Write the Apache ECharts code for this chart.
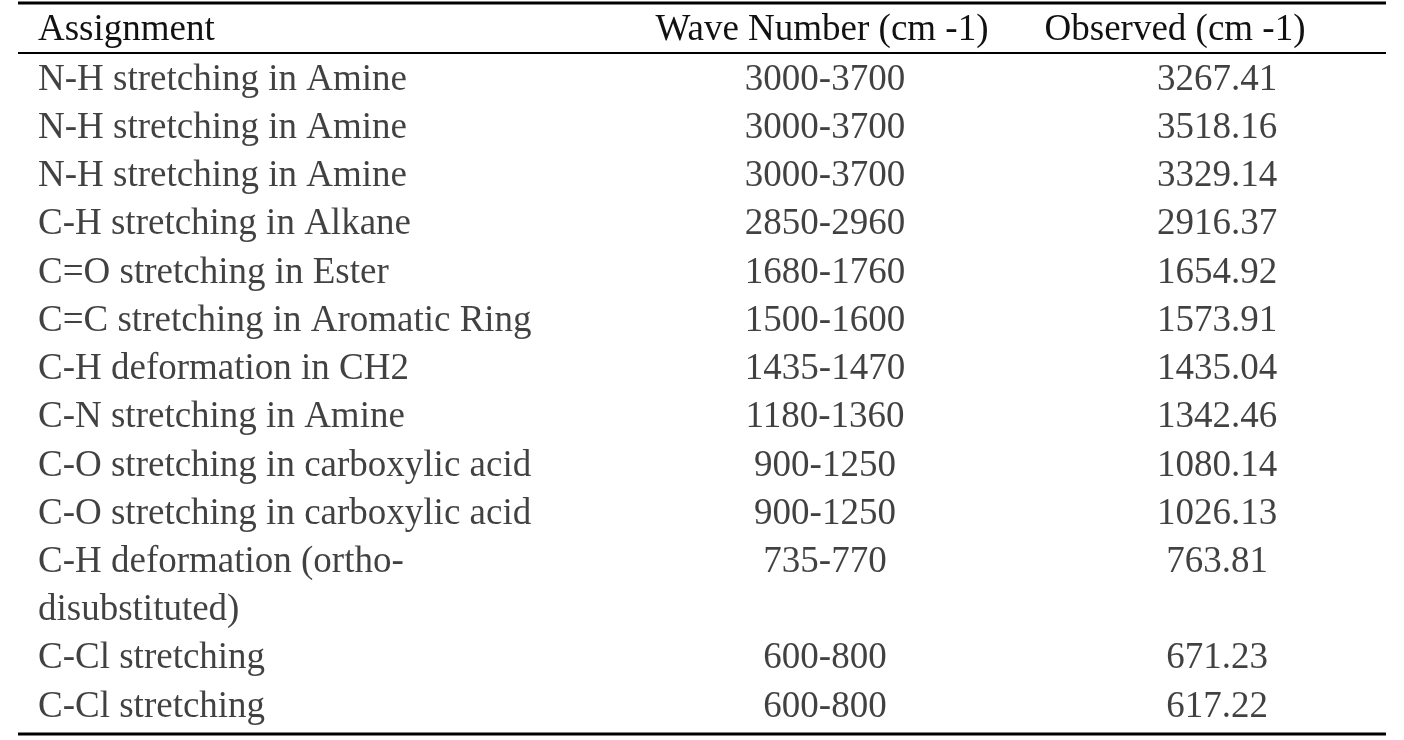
<!DOCTYPE html><html><head><meta charset="utf-8"><script src="https://cdn.jsdelivr.net/npm/echarts@6/dist/echarts.min.js"></script>
<style>html,body{margin:0;background:#fff}#c{width:1404px;height:740px}</style></head><body><div id="c"></div><script>
const headers=["Assignment","Wave Number (cm -1)","Observed (cm -1)"];
const assignments=["N-H stretching in Amine","N-H stretching in Amine","N-H stretching in Amine","C-H stretching in Alkane","C=O stretching in Ester","C=C stretching in Aromatic Ring","C-H deformation in CH2","C-N stretching in Amine","C-O stretching in carboxylic acid","C-O stretching in carboxylic acid","C-H deformation (ortho-","disubstituted)","C-Cl stretching","C-Cl stretching"];
const waveRanges=["3000-3700","3000-3700","3000-3700","2850-2960","1680-1760","1500-1600","1435-1470","1180-1360","900-1250","900-1250","735-770","","600-800","600-800"];
const observed=["3267.41","3518.16","3329.14","2916.37","1654.92","1573.91","1435.04","1342.46","1080.14","1026.13","763.81","","671.23","617.22"];
const rows=assignments.map((_,i)=>String(i));
const font={fontFamily:"Liberation Serif",fontSize:37,color:"#111"};
function ser(vals,x,align){return {type:'scatter',symbolSize:0,silent:true,data:vals.map((v,i)=>({value:[x,i],name:v})),
 label:{show:true,position:'inside',align:align,verticalAlign:'middle',formatter:p=>p.name,...font}};}
const ch=echarts.init(document.getElementById('c'));
ch.setOption({animation:false,
 grid:{left:0,right:0,top:56,bottom:9},
 xAxis:{type:'value',min:0,max:1404,show:false},
 yAxis:{type:'category',data:rows,inverse:true,show:false},
 series:[ser(assignments,38,'left'),ser(waveRanges,825,'center'),ser(observed,1217,'center')],
 graphic:[
  {type:'line',shape:{x1:18,y1:3,x2:1386,y2:3},style:{stroke:'#000',lineWidth:3}},
  {type:'line',shape:{x1:18,y1:53,x2:1386,y2:53},style:{stroke:'#000',lineWidth:2}},
  {type:'line',shape:{x1:18,y1:734,x2:1386,y2:734},style:{stroke:'#000',lineWidth:3}},
  {type:'text',x:38,y:30,style:{text:headers[0],textVerticalAlign:'middle',font:'37px "Liberation Serif"',fill:'#111'}},
  {type:'text',x:822,y:30,style:{text:headers[1],textAlign:'center',textVerticalAlign:'middle',font:'37px "Liberation Serif"',fill:'#111'}},
  {type:'text',x:1175,y:30,style:{text:headers[2],textAlign:'center',textVerticalAlign:'middle',font:'37px "Liberation Serif"',fill:'#111'}}
 ]});
</script></body></html>
